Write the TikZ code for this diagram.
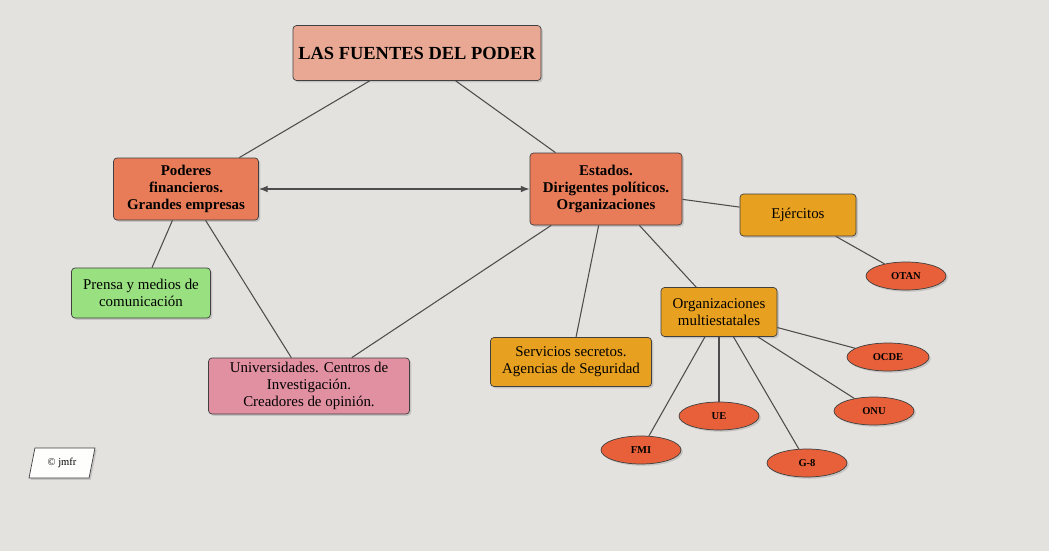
\documentclass[tikz,border=0pt]{standalone}
\usepackage{fontspec}
\setmainfont{Liberation Serif}
\usetikzlibrary{shapes.geometric,shadows,arrows.meta}
\definecolor{bg}{HTML}{E4E2DF}
\definecolor{ctitle}{HTML}{E8A893}
\definecolor{cred}{HTML}{E87C58}
\definecolor{corg}{HTML}{E8A020}
\definecolor{cell}{HTML}{E8603A}
\definecolor{cgreen}{HTML}{98E080}
\definecolor{cpink}{HTML}{E090A0}
\begin{document}
\begin{tikzpicture}[x=0.02cm,y=-0.02cm,
 box/.style={draw=black!75,rounded corners=2pt,align=center,inner sep=2pt,font=\fontsize{8.5}{9.8}\selectfont,drop shadow={opacity=0.3,shadow xshift=1pt,shadow yshift=-1pt}},
 ell/.style={ellipse,draw=black!75,fill=cell,font=\bfseries\fontsize{6}{7}\selectfont,inner sep=0pt,minimum width=80*0.02cm,minimum height=28*0.02cm,drop shadow={opacity=0.3,shadow xshift=1pt,shadow yshift=-1pt}},
 ln/.style={draw=black!70,line width=0.6pt}]
\useasboundingbox (0,0) rectangle (1049,551);
\fill[bg] (0,0) rectangle (1049,551);
\node[box,fill=ctitle,minimum width=248*0.02cm,minimum height=55*0.02cm,font=\bfseries\fontsize{10.5}{12}\selectfont] (t) at (417,53) {LAS FUENTES DEL PODER};
\node[box,fill=cred,minimum width=145*0.02cm,minimum height=62*0.02cm,font=\bfseries\fontsize{8.5}{9.8}\selectfont] (p) at (186,189) {Poderes\\financieros.\\Grandes empresas};
\node[box,fill=cred,minimum width=152*0.02cm,minimum height=72*0.02cm,font=\bfseries\fontsize{8.5}{9.8}\selectfont] (e) at (606,189) {Estados.\\Dirigentes políticos.\\Organizaciones};
\node[box,fill=corg,minimum width=116*0.02cm,minimum height=42*0.02cm] (ej) at (798,215) {Ejércitos};
\node[ell] (otan) at (906,276) {OTAN};
\node[box,fill=cgreen,minimum width=139*0.02cm,minimum height=50*0.02cm] (pr) at (141,293) {Prensa y medios de\\comunicación};
\node[box,fill=cpink,minimum width=201*0.02cm,minimum height=56*0.02cm] (u) at (309,386) {Universidades. Centros de\\Investigación.\\Creadores de opinión.};
\node[box,fill=corg,minimum width=161*0.02cm,minimum height=49*0.02cm] (s) at (571,362) {Servicios secretos.\\Agencias de Seguridad};
\node[box,fill=corg,minimum width=116*0.02cm,minimum height=49*0.02cm] (m) at (719,312) {Organizaciones\\multiestatales};
\node[ell,minimum width=82*0.02cm] (ocde) at (888,357) {OCDE};
\node[ell] (onu) at (874,411) {ONU};
\node[ell] (ue) at (719,416) {UE};
\node[ell] (g8) at (807,463) {G-8};
\node[ell] (fmi) at (641,450) {FMI};
\node[trapezium,trapezium left angle=75,trapezium right angle=105,trapezium stretches=true,draw=black!75,fill=white!95!bg,minimum width=66*0.02cm,minimum height=30*0.02cm,inner sep=1pt,font=\fontsize{6}{7}\selectfont,drop shadow={opacity=0.3,shadow xshift=1pt,shadow yshift=-1pt}] (c) at (62,463) {© jmfr};
\draw[ln] (t) -- (p);
\draw[ln] (t) -- (e);
\draw[ln,{Latex[length=5pt]}-{Latex[length=5pt]}] (p) -- (e);
\draw[ln] (p) -- (pr);
\draw[ln] (p) -- (u);
\draw[ln] (e) -- (u);
\draw[ln] (e) -- (s);
\draw[ln] (e) -- (m);
\draw[ln] (e) -- (ej);
\draw[ln] (ej) -- (otan);
\draw[ln] (m) -- (fmi);
\draw[ln] (m) -- (ue);
\draw[ln] (m) -- (g8);
\draw[ln] (m) -- (onu);
\draw[ln] (m) -- (ocde);
\end{tikzpicture}
\end{document}
